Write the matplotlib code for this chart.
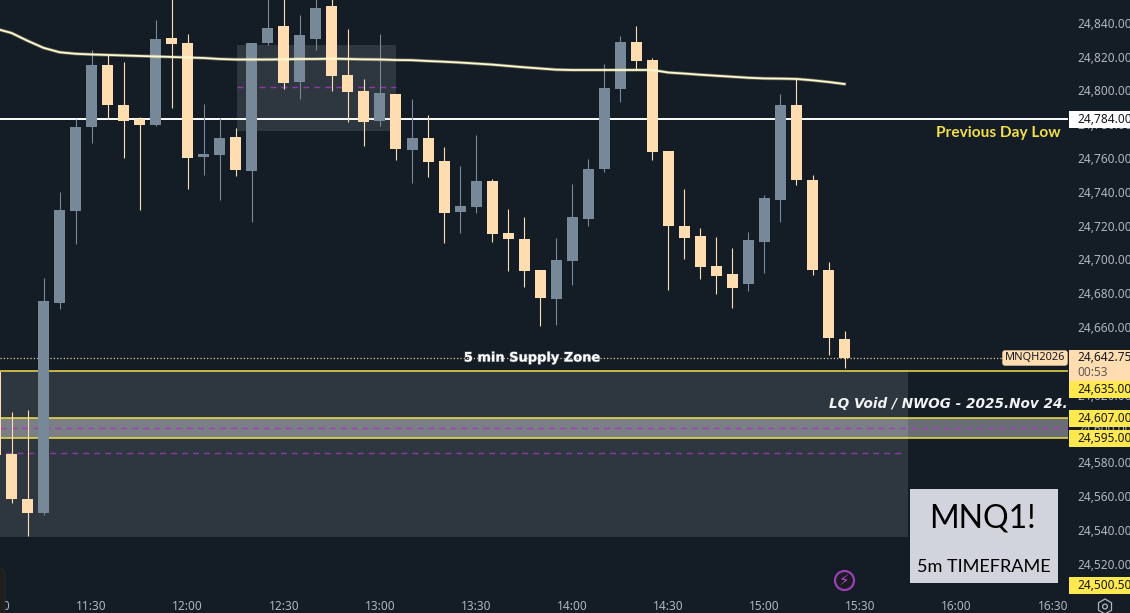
import numpy as np
import matplotlib
matplotlib.use("Agg")
import matplotlib.pyplot as plt
import matplotlib.patheffects as pe
from matplotlib.patches import Rectangle, Circle, RegularPolygon, FancyBboxPatch

plt.rcParams["lines.scale_dashes"] = False

# --- 5-minute bars, 11:00 to 15:25 (minutes since midnight = 660 + 5*i) ---
first_bar_minute = 660
opens = [24634.25, 24585.75, 24559.25, 24550.75, 24675, 24729.5, 24779.25, 24816, 24792.25, 24783.75,
         24780.5, 24832, 24829, 24761.5, 24762.75, 24773.25, 24753.25, 24829, 24839, 24806,
         24831.25, 24850.75, 24810, 24800.5, 24782.75, 24798.75, 24765.75, 24772.75, 24759.25, 24729,
         24732, 24747.25, 24716.5, 24713, 24694.75, 24677.5, 24700, 24724.75, 24754.5, 24801.75,
         24829.5, 24819, 24765, 24720.75, 24714.75, 24697, 24692.25, 24686.25, 24711.25, 24736,
         24792.25, 24748, 24694.75, 24653.75]
closes = [24585.25, 24559.25, 24550.75, 24676.25, 24730.25, 24779.25, 24816, 24792.25, 24782.75, 24780.5,
          24831.25, 24828.5, 24761, 24763.25, 24772.75, 24753.75, 24829, 24837.75, 24805.25, 24833.75,
          24849.75, 24809.5, 24800, 24782.25, 24799.5, 24766.25, 24772.75, 24758.5, 24728.5, 24732.5,
          24747.25, 24716, 24713, 24694, 24678, 24700.5, 24726, 24754.5, 24802.25, 24829.5,
          24818.25, 24764.5, 24720.75, 24713.5, 24696.5, 24691, 24684, 24712.5, 24737.25, 24792.25,
          24748, 24694.75, 24654.5, 24642.75]
highs = [24634.25, 24610.75, 24611.75, 24690, 24740.75, 24784, 24824.75, 24821.75, 24817.75, 24785.25,
         24842.5, 24866.25, 24834.25, 24792.75, 24784.5, 24778.75, 24829, 24866.25, 24866.25, 24845.5,
         24866.25, 24866.25, 24837.25, 24807.75, 24834.25, 24798.75, 24795.75, 24786.25, 24767.5, 24756.25,
         24774.5, 24748.5, 24730.75, 24726, 24694.75, 24713.5, 24745.5, 24760.25, 24816.5, 24833,
         24839, 24820, 24765, 24742.5, 24719.5, 24714.25, 24707.75, 24717.25, 24739, 24798.75,
         24807.75, 24750.75, 24699.5, 24658.5]
lows = [24585.25, 24556.5, 24537.25, 24549.75, 24671.5, 24710, 24769.75, 24784, 24761, 24730.25,
        24779.75, 24790.5, 24742.5, 24750.75, 24736, 24750.25, 24723, 24827.75, 24801.75, 24795.75,
        24824.75, 24800.5, 24782.25, 24768, 24779.75, 24759.75, 24746, 24749.75, 24710.75, 24716.5,
        24728.5, 24711.25, 24694, 24684.5, 24661.5, 24662, 24685.75, 24720.75, 24752.75, 24794,
        24813.5, 24759.75, 24682.75, 24701.25, 24689.25, 24680.5, 24672.25, 24682.25, 24692.75, 24723,
        24745, 24691.75, 24644.25, 24636.75]
moving_average = [24837.5, 24834.9, 24830.3, 24826.1, 24823.5, 24822.6, 24822.2, 24821.9, 24821.6, 24821.3,
                  24821, 24820.7, 24820.4, 24820.1, 24819.5, 24819.2, 24819.2, 24819.2, 24819.3, 24819.5,
                  24819.5, 24819.7, 24819.5, 24819.3, 24819.2, 24818.9, 24818.8, 24818.3, 24817.9, 24817.4,
                  24816.8, 24816.2, 24815.4, 24814.6, 24813.9, 24813.2, 24813, 24813, 24813, 24813,
                  24813, 24813, 24811.5, 24810.9, 24810.2, 24809.6, 24809, 24808.4, 24808, 24807.9,
                  24807.7, 24806.9, 24805.9, 24804.7]

# --- Levels and zones ---
previous_day_low = 24784
last_price = 24642.75
level_high, level_mid, level_low = 24635, 24607, 24595
zone_bottom = 24536.7
zone_end_minute = 944.8
zone_mid = 24586.1
void_mid = 24601
upper_zone = (735.4, 785.0, 24776.9, 24827.75)
upper_zone_mid = 24802.75
chart_low_tag = 24500.5

price_ticks = [24840, 24820, 24800, 24780, 24760, 24740, 24720, 24700, 24680, 24660,
               24640, 24620, 24600, 24580, 24560, 24540, 24520]
time_ticks = ["11:00", "11:30", "12:00", "12:30", "13:00", "13:30", "14:00", "14:30",
              "15:00", "15:30", "16:00", "16:30"]

BG = "#141d26"
UP = "#778899"
DOWN = "#ffddb0"
ZONE = "#2e3740"
YELLOW = "#f2df4a"
TAG_YELLOW = "#ffe94f"
PURPLE = "#8f38a8"
AXIS_TEXT = "#b2b5be"

W, H = 1130, 613
PLOT_RIGHT, PLOT_BOTTOM = 1068, 596
PX_PER_MIN = 3.204
PX_PER_POINT = 1.69

fig = plt.figure(figsize=(W / 100, H / 100), dpi=100, facecolor=BG)
ax = fig.add_axes([0, 1 - PLOT_BOTTOM / H, PLOT_RIGHT / W, PLOT_BOTTOM / H], facecolor=BG)
ax.set_xlim(661.41, 661.41 + PLOT_RIGHT / PX_PER_MIN)
ax.set_ylim(previous_day_low - (PLOT_BOTTOM - 119) / PX_PER_POINT,
            previous_day_low + 119 / PX_PER_POINT)
ax.axis("off")

# Zones sit under the candles
x0 = ax.get_xlim()[0]
x1 = ax.get_xlim()[1]
ax.add_patch(Rectangle((upper_zone[0], upper_zone[2]), upper_zone[1] - upper_zone[0],
                       upper_zone[3] - upper_zone[2], fc=ZONE, lw=0, zorder=1))
ax.add_patch(Rectangle((x0, zone_bottom), zone_end_minute - x0, level_high - zone_bottom,
                       fc=ZONE, lw=0, zorder=1))
ax.add_patch(Rectangle((x0, level_low), x1 - x0, level_mid - level_low,
                       fc="white", alpha=0.36, lw=0, zorder=1.5))

dash = (0, (4.3, 3.6))
ax.plot(upper_zone[:2], [upper_zone_mid] * 2, color=PURPLE, lw=1.0, ls=dash, zorder=2)
ax.plot([663.3, 943.2], [zone_mid] * 2, color=PURPLE, lw=1.0, ls=dash, zorder=2)
ax.plot([x0, x1], [void_mid] * 2, color="#a53cc0", lw=1.0, ls=dash, zorder=2)
for level in (level_high, level_mid, level_low):
    ax.axhline(level, color=YELLOW, lw=1.1, zorder=2.2)
ax.axhline(previous_day_low, color="white", lw=1.4, zorder=2.4)
ax.axhline(last_price, xmax=1002 / PLOT_RIGHT, color="#f6e3a8", lw=0.9,
           ls=(0, (0.8, 1.6)), zorder=2.4)

# Candles
opens_a, closes_a = np.array(opens), np.array(closes)
minutes = first_bar_minute + 5 * np.arange(len(opens))
colors = [UP if c >= o else DOWN for o, c in zip(opens_a, closes_a)]
ax.vlines(minutes, lows, highs, colors=colors, lw=0.8, zorder=3)
ax.bar(minutes, np.abs(closes_a - opens_a), bottom=np.minimum(opens_a, closes_a),
       width=11 / PX_PER_MIN, color=colors, lw=0, zorder=3.1)

# Moving average with a soft halo
ax.plot(minutes, moving_average, color="#fff6b8", lw=2.4, alpha=0.35, zorder=4)
ax.plot(minutes, moving_average, color="#fff9d0", lw=1.3, zorder=4.1)

# Pixel-space overlay for axis text, price tags and annotations
ov = fig.add_axes([0, 0, 1, 1], facecolor="none")
ov.set_xlim(0, W)
ov.set_ylim(H, 0)
ov.axis("off")


def price_y(price):
    return H - ax.transData.transform((0, price))[1]


def minute_x(minute):
    return ax.transData.transform((minute, 0))[0]


AXIS_FONT = "Noto Sans"
AXIS_PX = 11.9

for p in price_ticks:
    ov.text(1077, price_y(p), f"{p:,.2f}", color=AXIS_TEXT, fontsize=AXIS_PX * 0.72,
            family=AXIS_FONT, va="center", ha="left", zorder=1)

time_clip = Rectangle((0, 0), PLOT_RIGHT, H, transform=ov.transData)
for i, label in enumerate(time_ticks):
    t = ov.text(minute_x(660 + 30 * i), 606, label, color=AXIS_TEXT, fontsize=AXIS_PX * 0.72,
                family=AXIS_FONT, va="center", ha="center", zorder=1)
    t.set_clip_path(time_clip)
    t.set_clip_on(True)


def tag(price, face, shift=0, height=17):
    y = price_y(price) + shift
    ov.add_patch(Rectangle((1069, y - height / 2), W - 1069, height, fc=face, lw=0, zorder=5))
    ov.text(1077, y, f"{price:,.2f}", color="#131722", fontsize=AXIS_PX * 0.72,
            family=AXIS_FONT, va="center", ha="left", zorder=6)


tag(previous_day_low, "white", shift=0.5)
tag(level_high, TAG_YELLOW, shift=18.5)
tag(level_mid, TAG_YELLOW, shift=0.5)
tag(level_low, TAG_YELLOW, shift=0.5)
tag(chart_low_tag, TAG_YELLOW, shift=-13)

# Last-price tag with countdown and symbol label
last_y = price_y(last_price)
ov.add_patch(Rectangle((1069, 350), W - 1069, 31, fc=DOWN, lw=0, zorder=5))
ov.text(1077, last_y, f"{last_price:,.2f}", color="#131722", fontsize=AXIS_PX * 0.72,
        family=AXIS_FONT, va="center", zorder=6)
ov.text(1077, 372, "00:53", color="#5d5a54", fontsize=AXIS_PX * 0.72,
        family=AXIS_FONT, va="center", zorder=6)
ov.add_patch(FancyBboxPatch((1003, 351), 64, 14, boxstyle="round,pad=0,rounding_size=2",
                            fc=DOWN, ec=DOWN, lw=1, zorder=5))
ov.text(1035, 358, "MNQH2026", color="#131722", fontsize=11 * 0.72,
        family=AXIS_FONT, va="center", ha="center", zorder=6)

# Annotations
halo = [pe.withStroke(linewidth=0.8, foreground="#59606a")]
ov.text(532, 358, "5 min Supply Zone", color="white", fontsize=13 * 0.72, family="DejaVu Sans",
        weight="bold", va="center", ha="center", zorder=6, path_effects=halo)
void_label = ov.text(829, 404, "LQ Void / NWOG - 2025.Nov 24.", color="#f2f3f5",
                     fontsize=13.6 * 0.72, family="DejaVu Sans", weight="bold", style="italic",
                     va="center", ha="left", zorder=6)
void_label.set_clip_path(time_clip)
ov.text(998, 133.5, "Previous Day Low", color=YELLOW, fontsize=15.4 * 0.72, family="Lato",
        weight="bold", va="center", ha="center", zorder=6)

# Symbol watermark card
ov.add_patch(Rectangle((910, 489), 148, 94, fc="#d1d4dc", lw=0, zorder=6))
ov.text(983, 519, "MNQ1!", color="black", fontsize=32 * 0.72, family="Lato",
        va="center", ha="center", zorder=7)
ov.text(984, 567, "5m TIMEFRAME", color="black", fontsize=18.2 * 0.72, family="Lato",
        va="center", ha="center", zorder=7)

# Small interface marks
ov.add_patch(Circle((844.5, 580.5), 9.5, fc="#1b1b22", ec="#9b3fb5", lw=1.6, zorder=6))
ov.text(844.5, 580.5, "\u26a1", color="#b14ed0", fontsize=15 * 0.72, family="DejaVu Sans",
        va="center", ha="center", zorder=7)
ov.add_patch(RegularPolygon((1105, 606.5), 6, radius=7.5, fc="none", ec=AXIS_TEXT, lw=0.9, zorder=6))
ov.add_patch(Circle((1105, 606.5), 2.4, fc="none", ec=AXIS_TEXT, lw=0.9, zorder=6))
ov.add_patch(FancyBboxPatch((-8, 569), 13, 60, boxstyle="round,pad=0,rounding_size=5",
                            fc="#1e1e1e", ec="#2a2a2a", lw=0.6, zorder=6))

fig.savefig("out.png", dpi=100, facecolor=BG)
